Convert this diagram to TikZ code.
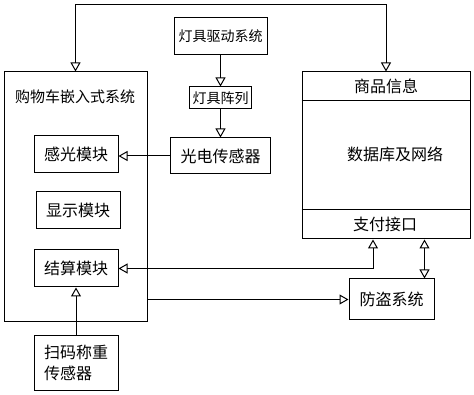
\documentclass[tikz,border=0pt]{standalone}
\usepackage{fontspec}
\newfontfamily\cjk{Noto Sans CJK SC}
\usetikzlibrary{arrows.meta, positioning, calc}

\begin{document}
\begin{tikzpicture}[
    x=1pt, y=-1pt,
    node distance=31pt,
    box/.style={rectangle, draw, line width=1pt, minimum width=84pt, minimum height=37pt, inner sep=2pt, font=\cjk\fontsize{16}{21}\selectfont},
    lampbox/.style={box, font=\cjk\fontsize{14}{17}\selectfont},
    boxtext/.style={inner sep=0pt, font=\cjk\fontsize{16}{19}\selectfont},
    link/.style={line width=1pt, -{Triangle[open, length=9pt, width=10pt]}},
    twoway/.style={line width=1pt, {Triangle[open, length=9pt, width=10pt]}-{Triangle[open, length=9pt, width=10pt]}}
]
    \useasboundingbox (0,0) rectangle (474,395);

    % cart side
    \node (cart) [box, minimum width=143pt, minimum height=250pt] at (75.5,197) {};
    \node (cartname) [boxtext, font=\cjk\fontsize{15}{18}\selectfont] at (75,97) {购物车嵌入式系统};
    \node (sense) [box] at (76,154) {感光模块};
    \node (show) [box] at (78,210.5) {显示模块};
    \node (settle) [box] at (76,268.5) {结算模块};
    \node (scan) [box, minimum height=54pt, align=left] at (76,363) {扫码称重\\传感器};

    % lamps
    \node (drive) [lampbox, minimum width=93pt] at (220.5,36.5) {灯具驱动系统};
    \node (lamps) [lampbox, minimum width=62pt, minimum height=22pt, below=of drive] {灯具阵列};
    \node (photo) [box, minimum width=100pt, minimum height=36pt, below=28pt of lamps] {光电传感器};

    % goods info
    \node (info) [box, minimum width=168pt, minimum height=167pt] at (386,155.5) {};
    \node (infohead) [boxtext] at (386,86.5) {商品信息};
    \node (infobody) [boxtext] at (395,154) {数据库及网络};
    \node (pay) [boxtext] at (385,224.5) {支付接口};
    \coordinate (cut1) at (0,101);
    \coordinate (cut2) at (0,210);
    \draw[line width=1pt] (info.west |- cut1) -- (info.east |- cut1);
    \draw[line width=1pt] (info.west |- cut2) -- (info.east |- cut2);

    \node (guard) [box, minimum width=85pt, minimum height=41pt] at (391.5,299.5) {防盗系统};

    % connectors
    \coordinate (top) at (0,5);
    \draw[twoway] (cart.north) -- (cart.north |- top) -| (info.north);
    \draw[link] (drive) -- (lamps);
    \draw[link] (lamps) -- (photo);
    \draw[link] (photo.west) -- (photo.west -| sense.east);
    \draw[link] (scan) -- (settle);
    \draw[twoway] (settle.east) -| ([xshift=-13pt]info.south);
    \draw[twoway] ([xshift=-10pt]guard.north east |- info.south) -- ([xshift=-10pt]guard.north east);
    \draw[link] (cart.east |- guard.west) -- (guard.west);
\end{tikzpicture}
\end{document}
